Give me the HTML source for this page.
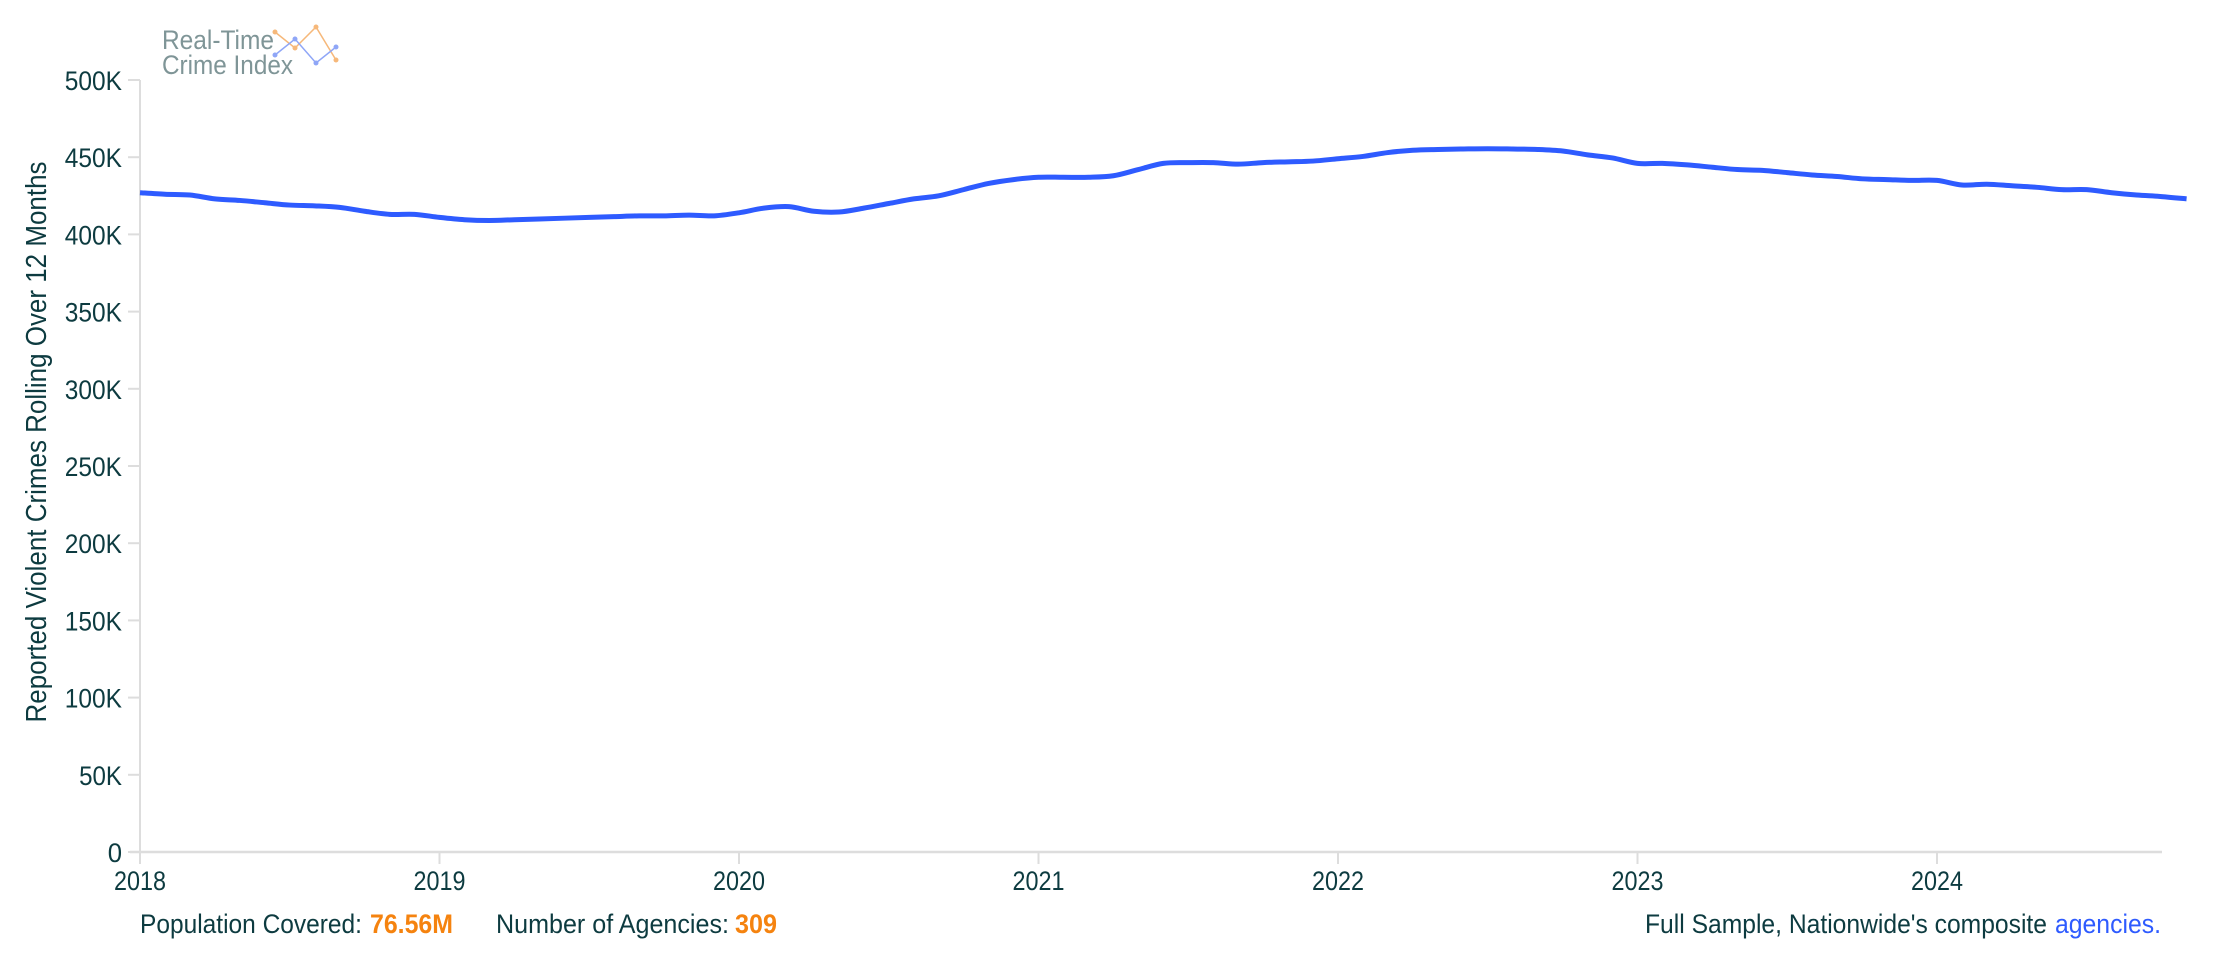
<!DOCTYPE html>
<html><head><meta charset="utf-8">
<style>
html,body{margin:0;padding:0;background:#fff;}
body{width:2222px;height:952px;overflow:hidden;font-family:"Liberation Sans",sans-serif;}
svg text{font-family:"Liberation Sans",sans-serif;}
</style></head>
<body>
<svg id="chart" width="2222" height="952" xmlns="http://www.w3.org/2000/svg">
  <g>
    <text x="162" y="49" font-size="27" fill="#7f9597" textLength="112" lengthAdjust="spacingAndGlyphs">Real-Time</text>
    <text x="162" y="74" font-size="27" fill="#7f9597" textLength="131" lengthAdjust="spacingAndGlyphs">Crime Index</text>
    <polyline points="275,32 295,48 316,27 336,60" fill="none" stroke="#f6b87a" stroke-width="1.5"/>
    <polyline points="275,55 295,39 316,63 336,47" fill="none" stroke="#8fa6f7" stroke-width="1.5"/>
    <circle cx="275" cy="32" r="2.5" fill="#f6b87a"/><circle cx="295" cy="48" r="2.5" fill="#f6b87a"/><circle cx="316" cy="27" r="2.5" fill="#f6b87a"/><circle cx="336" cy="60" r="2.5" fill="#f6b87a"/>
    <circle cx="275" cy="55" r="2.5" fill="#8fa6f7"/><circle cx="295" cy="39" r="2.5" fill="#8fa6f7"/><circle cx="316" cy="63" r="2.5" fill="#8fa6f7"/><circle cx="336" cy="47" r="2.5" fill="#8fa6f7"/>
  </g>
  <text transform="translate(46,442) rotate(-90)" text-anchor="middle" font-size="29" fill="#0d3b40" textLength="561" lengthAdjust="spacingAndGlyphs">Reported Violent Crimes Rolling Over 12 Months</text>
  <g id="yaxis"></g>
  <g id="xaxis"></g>
  <g id="series"></g>
  <g>
    <text x="140" y="933" font-size="27" fill="#0d3b40" textLength="222" lengthAdjust="spacingAndGlyphs">Population Covered:</text>
    <text x="370" y="933" font-size="27" fill="#f5830f" font-weight="bold" textLength="83" lengthAdjust="spacingAndGlyphs">76.56M</text>
    <text x="496" y="933" font-size="27" fill="#0d3b40" textLength="233" lengthAdjust="spacingAndGlyphs">Number of Agencies:</text>
    <text x="735" y="933" font-size="27" fill="#f5830f" font-weight="bold" textLength="42" lengthAdjust="spacingAndGlyphs">309</text>
    <text x="1645" y="933" font-size="27" fill="#0d3b40" textLength="402" lengthAdjust="spacingAndGlyphs">Full Sample, Nationwide's composite</text>
    <text x="2055" y="933" font-size="27" fill="#2e5bff" textLength="106" lengthAdjust="spacingAndGlyphs">agencies.</text>
  </g>
</svg>
<script>
const yTicks = [0,50000,100000,150000,200000,250000,300000,350000,400000,450000,500000];
const yTickLabels = ["0","50K","100K","150K","200K","250K","300K","350K","400K","450K","500K"];
const xYears = [2018,2019,2020,2021,2022,2023,2024];
const startYear = 2018;
const values = [
427,426,425.5,423,422,420.5,419,418.5,417.5,415,413,413,
411,409.5,409,409.5,410,410.5,411,411.5,412,412,412.5,412,
414,417,418,415,414.5,417,420,423,425,429,433,435.5,
437,437,437,438,442,446,446.5,446.5,445.5,446.5,447,447.5,
449,450.5,453,454.5,455,455.3,455.5,455.3,455,454,451.5,449.5,
446,446,445,443.5,442,441.5,440,438.5,437.5,436,435.5,435,
435,432,432.5,431.5,430.5,429,429,427,425.5,424.5,423
].map(v=>v*1000);

const NS="http://www.w3.org/2000/svg";
const X0=140, YEARW=299.5, Y0=852, Y1=80, XEND=2162;
function xScale(yearFrac){return X0+(yearFrac-startYear)*YEARW;}
function yScale(v){return Y0-(v/500000)*(Y0-Y1);}
function mk(tag,attrs,parent){const e=document.createElementNS(NS,tag);for(const k in attrs)e.setAttribute(k,attrs[k]);parent.appendChild(e);return e;}

const ya=document.getElementById('yaxis');
mk('line',{x1:X0,x2:X0,y1:Y1,y2:Y0,stroke:'#dddddd','stroke-width':2},ya);
yTicks.forEach((t,i)=>{
  const y=yScale(t);
  const tk=mk('line',{x1:X0-12,x2:X0,y1:y,y2:y,stroke:'#dddddd','stroke-width':2},ya);
  
  
  const lab=yTickLabels[i];
  const tx=mk('text',{x:X0-18,y:y+10,'text-anchor':'end','font-size':27,fill:'#0d3b40',textLength:lab.length*14.3,lengthAdjust:'spacingAndGlyphs'},ya);
  tx.textContent=lab;
  
  
});
const xa=document.getElementById('xaxis');
mk('line',{x1:X0-10,x2:XEND,y1:Y0,y2:Y0,stroke:'#dddddd','stroke-width':2.5},xa);
xYears.forEach(yr=>{
  const x=xScale(yr);
  const tk=mk('line',{x1:x,x2:x,y1:Y0,y2:Y0+12,stroke:'#dddddd','stroke-width':2},xa);
  
  
  const tx=mk('text',{x:x,y:Y0+38,'text-anchor':'middle','font-size':27,fill:'#0d3b40',textLength:52,lengthAdjust:'spacingAndGlyphs'},xa);
  tx.textContent=String(yr);
  
  
});
const pts=values.map((v,i)=>[xScale(startYear+i/12),yScale(v)]);
let d='M'+pts[0][0]+','+pts[0][1];
for(let i=1;i<pts.length;i++){
  const p0=pts[Math.max(i-2,0)],p1=pts[i-1],p2=pts[i],p3=pts[Math.min(i+1,pts.length-1)];
  const c1x=p1[0]+(p2[0]-p0[0])/6,c1y=p1[1]+(p2[1]-p0[1])/6;
  const c2x=p2[0]-(p3[0]-p1[0])/6,c2y=p2[1]-(p3[1]-p1[1])/6;
  d+=' C'+c1x+','+c1y+' '+c2x+','+c2y+' '+p2[0]+','+p2[1];
}
const line=mk('path',{d:d,fill:'none',stroke:'#2e5bff','stroke-width':5,'stroke-linejoin':'round'},document.getElementById('series'));


</script>
</body></html>
